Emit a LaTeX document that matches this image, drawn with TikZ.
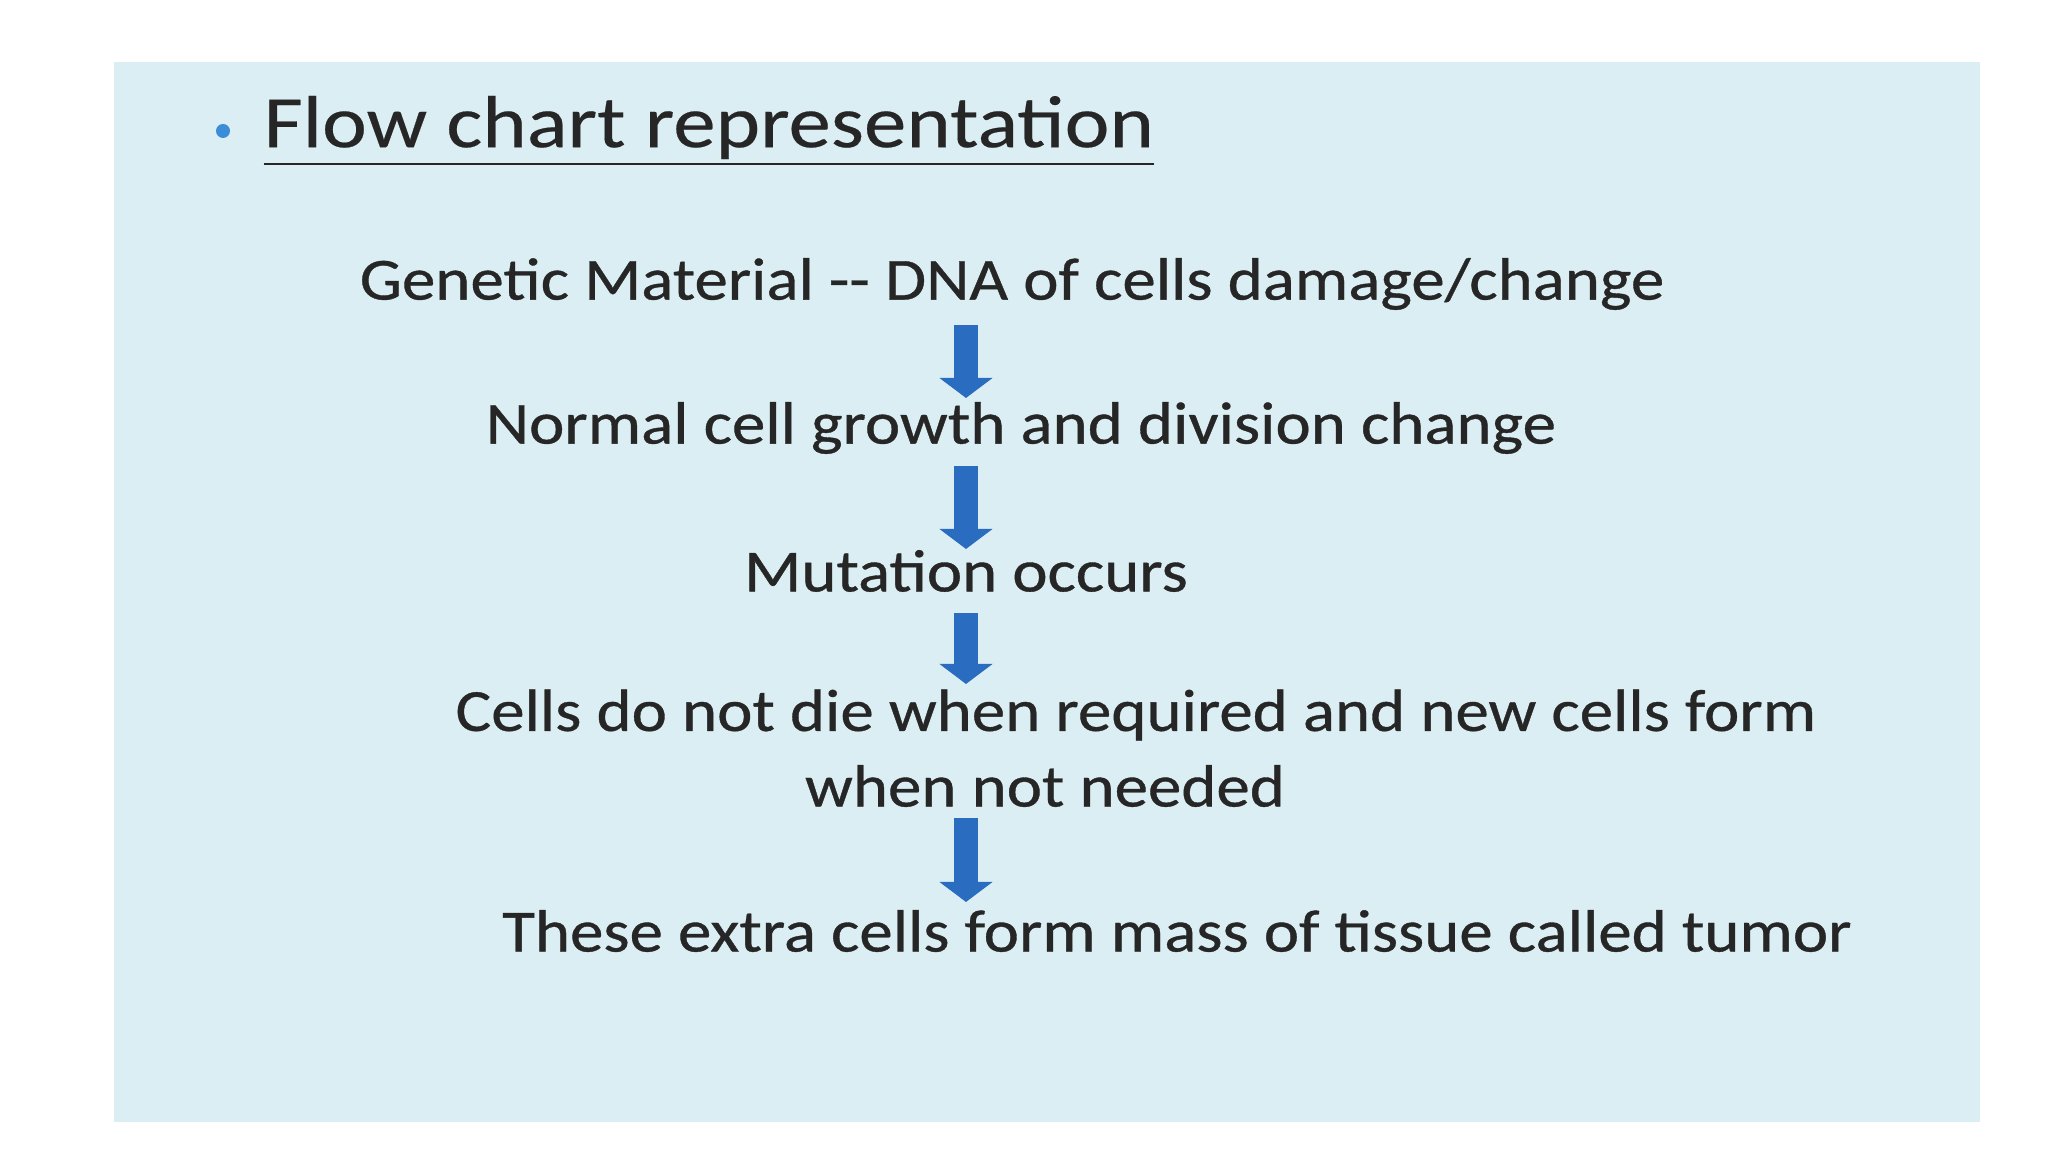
\documentclass[tikz,border=0pt]{standalone}
\usepackage{fontspec}
\setmainfont{Carlito}
\newfontfamily\bodyfont[FakeStretch=1.12,FakeBold=0.6]{Carlito}
\newfontfamily\titlefont[FakeStretch=1.15,FakeBold=0.3]{Carlito}
\usetikzlibrary{positioning}
\usetikzlibrary{arrows.meta}
\definecolor{panelbg}{HTML}{DAEEF3}
\definecolor{flowblue}{HTML}{2A6CC0}
\definecolor{bulletblue}{HTML}{3C8DD8}
\definecolor{txt}{HTML}{262626}

\begin{document}
\begin{tikzpicture}[%
  >={Triangle[width=0.52cm,length=0.2cm]},
  step text/.style={inner sep=0pt, text=txt, font=\bodyfont\fontsize{17}{21}\selectfont},
  flow arrow/.style={->, draw=flowblue, line width=0.24cm},
]

  \useasboundingbox (0,0) rectangle (20.48,11.52);
  \fill[panelbg] (1.14,0.30) rectangle (19.80,10.90);

  % title
  \fill[bulletblue] (2.23,10.21) circle (0.07);
  \node[anchor=west, inner sep=0pt, text=txt, font=\titlefont\fontsize{21}{25}\selectfont]
    (title) at (2.63,10.21) {\underline{Flow chart representation}};

  % steps
  \node[step text] (genetic) at (10.12,8.68) {Genetic Material -- DNA of cells damage/change};
  \node[step text] (normal) at (10.21,7.24) {Normal cell growth and division change};
  \node[step text] (mutation) at (9.66,5.81) {Mutation occurs};
  \node[step text] (cells) at (11.36,4.37) {Cells do not die when required and new cells form};
  \node[step text] (cellsb) at (10.45,3.66) {when not needed};
  \node[step text] (tumor) at (11.77,2.21) {These extra cells form mass of tissue called tumor};

  % arrows
  \coordinate (ax) at (9.66,0);
  \draw[flow arrow] (ax |- 0,8.27) -- (ax |- 0,7.54);
  \draw[flow arrow] (ax |- 0,6.86) -- (ax |- 0,6.03);
  \draw[flow arrow] (ax |- 0,5.39) -- (ax |- 0,4.68);
  \draw[flow arrow] (ax |- 0,3.34) -- (ax |- 0,2.50);

\end{tikzpicture}
\end{document}
